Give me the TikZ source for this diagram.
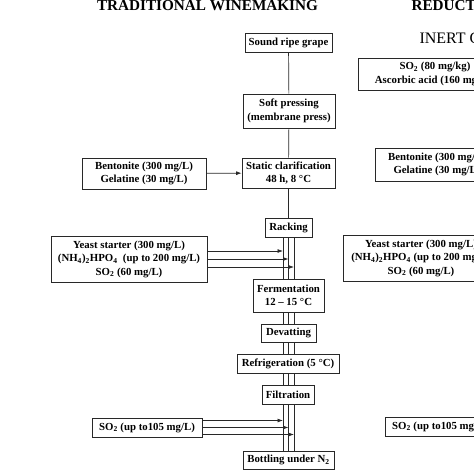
\documentclass[tikz,border=0pt]{standalone}
\usepackage{fontspec}
\setmainfont{Liberation Serif}
\usetikzlibrary{arrows.meta,backgrounds}
\definecolor{boxline}{RGB}{40,40,40}

\tikzset{
  stage/.style={draw=boxline,fill=white,line width=0.8pt,align=center,inner sep=1pt,
    font=\bfseries\fontsize{10.8}{13.5}\selectfont},
  flow/.style={line width=0.7pt,draw=boxline},
  feed/.style={flow,-{Latex[length=5.5pt,width=4pt]}},
}

\begin{document}
\begin{tikzpicture}[x=1pt,y=-1pt]
\useasboundingbox (0,0) rectangle (474,474);
\clip (0,0) rectangle (474,474);
% Titles
\node[anchor=base,font=\bfseries\fontsize{15.2}{17}\selectfont] (titleA) at (207.5,10) {TRADITIONAL WINEMAKING};
\node[anchor=base west,font=\bfseries\fontsize{15.2}{17}\selectfont] (titleB) at (408,10) {REDUCTIVE WINEMAKING};
\node[anchor=base west,font=\fontsize{16}{18}\selectfont] (inert) at (416,43) {INERT GAS};
% Main line of stages
\node[stage,minimum width=87,minimum height=19] (grape) at (288.5,42.5) {Sound ripe grape};
\node[stage,minimum width=92,minimum height=34] (press) at (289,111) {Soft pressing\\(membrane press)};
\node[stage,minimum width=93,minimum height=30] (clarif) at (288.5,173) {Static clarification\\48 h, 8 °C};
\node[stage,minimum width=47,minimum height=19] (racking) at (288.5,227.5) {Racking};
\node[stage,minimum width=71,minimum height=33] (ferment) at (288.5,295.5) {Fermentation\\12 – 15 °C};
\node[stage,minimum width=55,minimum height=18] (devat) at (288.5,333) {Devatting};
\node[stage,minimum width=102,minimum height=19] (refrig) at (288,363.5) {Refrigeration (5 °C)};
\node[stage,minimum width=52,minimum height=19] (filtr) at (288,394.5) {Filtration};
\node[stage,minimum width=91,minimum height=18] (bottling) at (288.5,460) {Bottling under N\textsubscript{2}};
% Additions, traditional
\node[stage,minimum width=124,minimum height=31] (bento) at (144,173.5) {Bentonite (300 mg/L)\\Gelatine (30 mg/L)};
\node[stage,minimum width=156,minimum height=46] (yeast) at (129,259) {Yeast starter (300 mg/L)\\(NH\textsubscript{4})\textsubscript{2}HPO\textsubscript{4}\ \ (up to 200 mg/L)\\SO\textsubscript{2} (60 mg/L)};
\node[stage,minimum width=110,minimum height=19] (sulfite) at (147,427.5) {SO\textsubscript{2} (up to105 mg/L)};
% Additions, reductive
\node[stage,minimum width=154,minimum height=32] (rascorb) at (435,74) {SO\textsubscript{2} (80 mg/kg)\\Ascorbic acid (160 mg/kg)};
\node[stage,minimum width=124,minimum height=33] (rbento) at (437,164.5) {Bentonite (300 mg/L)\\Gelatine (30 mg/L)};
\node[stage,minimum width=156,minimum height=46] (ryeast) at (421,258) {Yeast starter (300 mg/L)\\(NH\textsubscript{4})\textsubscript{2}HPO\textsubscript{4} (up to 200 mg/L)\\SO\textsubscript{2} (60 mg/L)};
\node[stage,minimum width=110,minimum height=19] (rsulfite) at (440,426.5) {SO\textsubscript{2} (up to105 mg/L)};
% Three streams
\coordinate (sA) at (283,0);
\coordinate (sB) at (288.5,0);
\coordinate (sC) at (294,0);
\begin{scope}[on background layer]
\draw[flow] (grape) -- (press);
\draw[flow] (press) -- (clarif);
\draw[flow] (clarif) -- (racking);
\draw[flow] (racking.south -| sA) -- (bottling.north -| sA);
\draw[flow] (racking.south -| sB) -- (bottling.north -| sB);
\draw[flow] (racking.south -| sC) -- (bottling.north -| sC);
\end{scope}
% Feeds
\draw[feed] (bento) -- (clarif);
\draw[feed] ([yshift=8]yeast.east) -- ([yshift=8]yeast.east -| sA);
\draw[feed] (yeast.east) -- (yeast.east -| sB);
\draw[feed] ([yshift=-8]yeast.east) -- ([yshift=-8]yeast.east -| sC);
\draw[feed] ([yshift=7]sulfite.east) -- ([yshift=7]sulfite.east -| sA);
\draw[feed] (sulfite.east) -- (sulfite.east -| sB);
\draw[feed] ([yshift=-7]sulfite.east) -- ([yshift=-7]sulfite.east -| sC);
\end{tikzpicture}
\end{document}
